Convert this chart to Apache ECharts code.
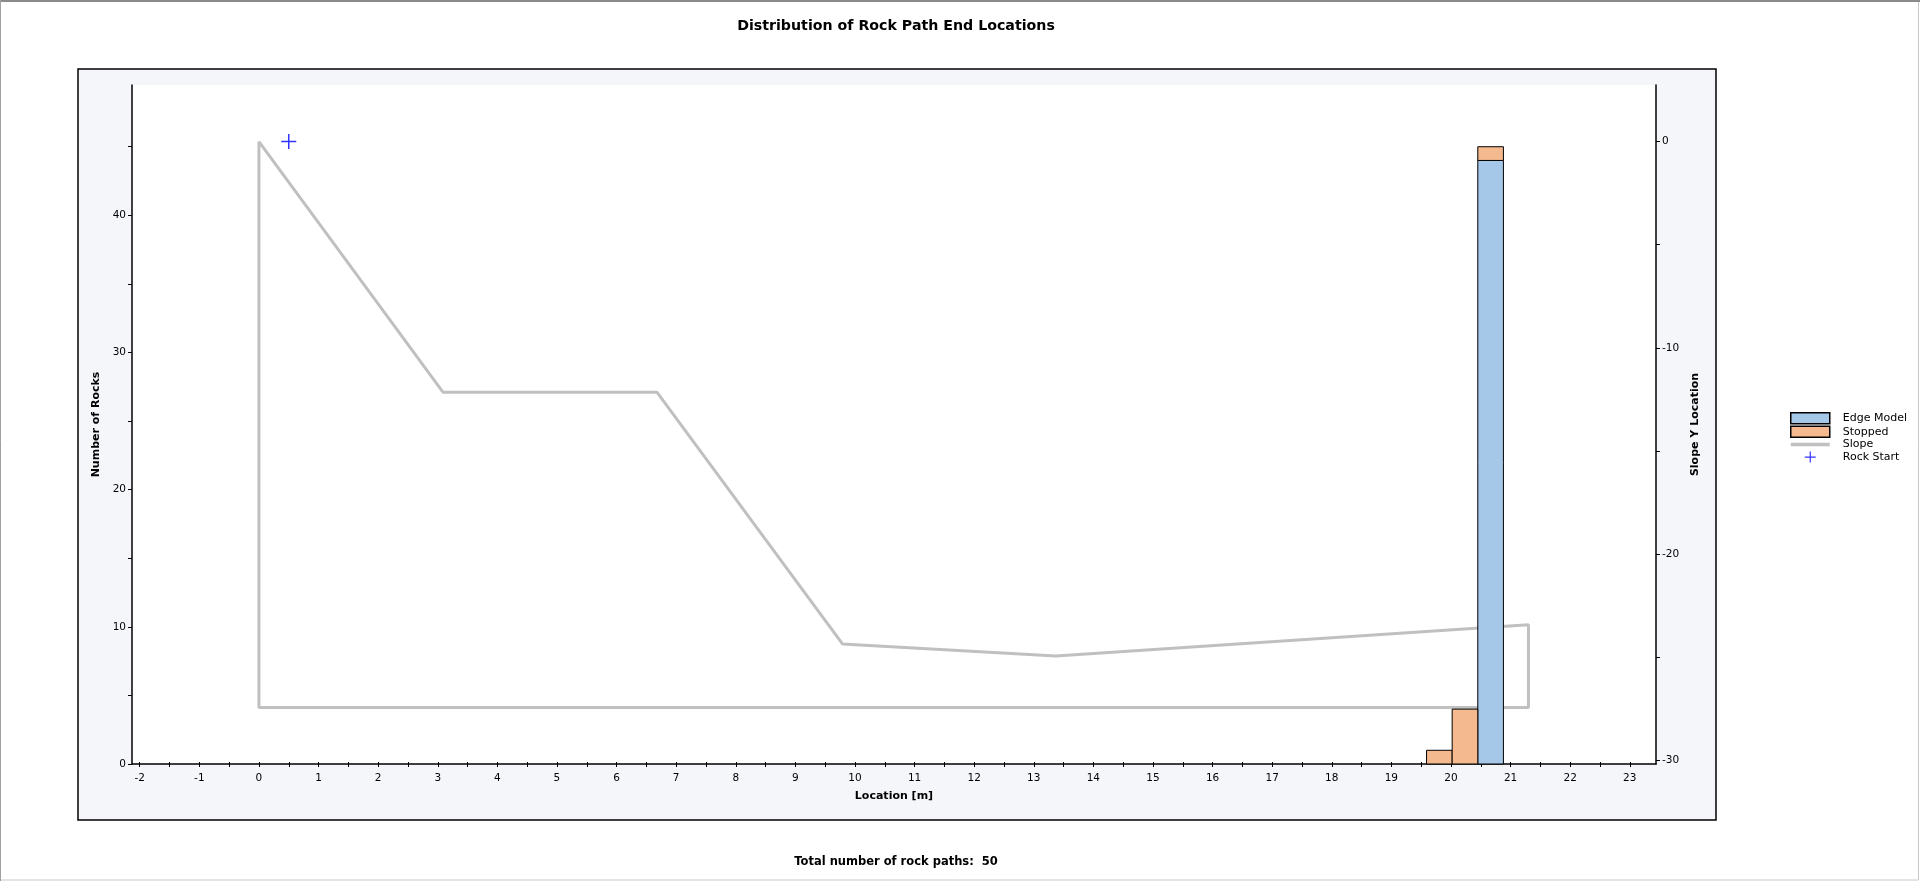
<!DOCTYPE html>
<html>
<head>
<meta charset="utf-8">
<script src="https://cdn.jsdelivr.net/npm/echarts@6/dist/echarts.min.js"></script>
<style>
html,body{margin:0;padding:0;background:#fff;}
#chart{width:1920px;height:881px;}
</style>
</head>
<body>
<div id="chart"></div>
<script>
// ---- Data ----
const binStart = [19.59, 20.02, 20.45];
const binEnd = [20.02, 20.45, 20.88];
const edgeModelCounts = [0, 0, 44];
const stoppedCounts = [1, 4, 1];

const slopeX = [0, 3.09, 6.68, 9.79, 13.37, 21.30, 21.30, 0, 0];
const slopeY = [0, -12.16, -12.16, -24.36, -24.94, -23.43, -27.44, -27.44, 0];

const rockStartX = [0.5];
const rockStartY = [0];

const xTickLabels = [-2,-1,0,1,2,3,4,5,6,7,8,9,10,11,12,13,14,15,16,17,18,19,20,21,22,23];
const xTicks = [-2,-1.5,-1,-0.5,0,0.5,1,1.5,2,2.5,3,3.5,4,4.5,5,5.5,6,6.5,7,7.5,8,8.5,9,9.5,10,10.5,11,11.5,12,12.5,13,13.5,14,14.5,15,15.5,16,16.5,17,17.5,18,18.5,19,19.5,20,20.5,21,21.5,22,22.5,23];
const countTickLabels = [0, 10, 20, 30, 40];
const countTicks = [0, 5, 10, 15, 20, 25, 30, 35, 40, 45];
const slopeTickLabels = [-30, -20, -10, 0];
const slopeTicks = [-30, -25, -20, -15, -10, -5, 0];

const xRange = [-2.13, 23.44];
const countRange = [0, 49.5];
const slopeRange = [-30.18, 2.74];

// ---- Derived ----
const totalPaths = edgeModelCounts.reduce((a, b) => a + b, 0) + stoppedCounts.reduce((a, b) => a + b, 0);
const edgeData = binStart.map((s, i) => [s, binEnd[i], 0, edgeModelCounts[i]]);
const stoppedData = binStart.map((s, i) => [s, binEnd[i], edgeModelCounts[i], edgeModelCounts[i] + stoppedCounts[i]]);
const slopeData = slopeX.map((x, i) => [x, slopeY[i]]);
const rockData = rockStartX.map((x, i) => [x, rockStartY[i]]);

const EDGE_COLOR = '#A6C8E8';
const STOP_COLOR = '#F4B98E';
const SLOPE_COLOR = '#C0C0C0';
const FONT = 'DejaVu Sans';

function barRenderer(fill) {
  return function (params, api) {
    const x0 = api.value(0), x1 = api.value(1), y0 = api.value(2), y1 = api.value(3);
    if (y1 <= y0) return null;
    const p0 = api.coord([x0, y0]);
    const p1 = api.coord([x1, y1]);
    return {
      type: 'rect',
      shape: { x: p0[0], y: p1[1], width: p1[0] - p0[0], height: p0[1] - p1[1] },
      style: { fill: fill, stroke: '#000', lineWidth: 1 }
    };
  };
}

const chart = echarts.init(document.getElementById('chart'), null, { renderer: 'canvas' });

const labelStyle = { fontFamily: FONT, fontSize: 10.5, color: '#000' };
const nameStyle = { fontFamily: FONT, fontSize: 11, fontWeight: 'bold', color: '#000' };

chart.setOption({
  animation: false,
  backgroundColor: '#fff',
  graphic: [
    { type: 'rect', z: -100, shape: { x: 0.5, y: 1, width: 1918, height: 879 },
      style: { fill: '#fff', stroke: '#c8c8c8', lineWidth: 1 } },
    { type: 'line', z: -99, shape: { x1: 0, y1: 1, x2: 1920, y2: 1 },
      style: { stroke: '#8a8a8a', lineWidth: 2 } },
    { type: 'line', z: -99, shape: { x1: 0.5, y1: 0, x2: 0.5, y2: 881 },
      style: { stroke: '#a0a0a0', lineWidth: 1 } },
    { type: 'rect', z: -98, shape: { x: 78, y: 69, width: 1638, height: 751 },
      style: { fill: '#F5F6FA', stroke: '#000', lineWidth: 1.5 } },
    { type: 'text', z: 10, x: 896, y: 26,
      style: { text: 'Distribution of Rock Path End Locations', fontFamily: FONT, fontSize: 14.2,
        fontWeight: 'bold', fill: '#000', textAlign: 'center', textVerticalAlign: 'middle' } },
    { type: 'text', z: 10, x: 896, y: 862,
      style: { text: 'Total number of rock paths:  ' + totalPaths, fontFamily: FONT, fontSize: 11.5,
        fontWeight: 'bold', fill: '#000', textAlign: 'center', textVerticalAlign: 'middle' } }
  ],
  grid: {
    left: 132, top: 85, right: 264, bottom: 117,
    show: true, backgroundColor: '#fff', borderWidth: 0, containLabel: false
  },
  legend: {
    orient: 'vertical', left: 1785, top: 407, padding: 5,
    itemWidth: 39, itemHeight: 11, itemGap: 1,
    textStyle: { fontFamily: FONT, fontSize: 11, color: '#000', lineHeight: 11, padding: [0, 0, 0, 8] },
    data: [
      { name: 'Edge Model', icon: 'rect', itemStyle: { color: EDGE_COLOR, borderColor: '#000', borderWidth: 1.5 } },
      { name: 'Stopped', icon: 'rect', itemStyle: { color: STOP_COLOR, borderColor: '#000', borderWidth: 1.5 } },
      { name: 'Slope', icon: 'path://M0,0L39,0L39,3.5L0,3.5Z', itemStyle: { color: SLOPE_COLOR, borderWidth: 0 } },
      { name: 'Rock Start', icon: 'path://M0,5L10,5M5,0L5,10', itemStyle: { color: 'rgba(0,0,0,0)', borderColor: '#0000FF', borderWidth: 1.2 } }
    ],
    selectedMode: false
  },
  xAxis: [
    {
      type: 'value', min: xRange[0], max: xRange[1], position: 'bottom',
      name: 'Location [m]', nameLocation: 'middle', nameGap: 27, nameTextStyle: nameStyle,
      axisLine: { show: true, onZero: false, lineStyle: { color: '#000', width: 1.5 } },
      axisTick: { show: true, inside: false, length: 3, customValues: xTicks, lineStyle: { color: '#000', width: 1 } },
      axisLabel: { show: true, margin: 9, customValues: xTickLabels, ...labelStyle },
      splitLine: { show: false }
    },
    {
      type: 'value', min: xRange[0], max: xRange[1], position: 'bottom',
      axisLine: { show: false, onZero: false },
      axisTick: { show: true, inside: true, length: 2, customValues: xTicks, lineStyle: { color: '#000', width: 1 } },
      axisLabel: { show: false },
      splitLine: { show: false }
    }
  ],
  yAxis: [
    {
      type: 'value', min: countRange[0], max: countRange[1], position: 'left',
      name: 'Number of Rocks', nameLocation: 'middle', nameGap: 14, nameRotate: 90, nameTextStyle: nameStyle,
      axisLine: { show: true, onZero: false, lineStyle: { color: '#000', width: 1.5 } },
      axisTick: { show: true, length: 4, customValues: countTicks, lineStyle: { color: '#000', width: 1 } },
      axisLabel: { show: true, margin: 6, customValues: countTickLabels, ...labelStyle },
      splitLine: { show: false }
    },
    {
      type: 'value', min: slopeRange[0], max: slopeRange[1], position: 'right',
      name: 'Slope Y Location', nameLocation: 'middle', nameGap: 31, nameRotate: 90, nameTextStyle: nameStyle,
      axisLine: { show: true, onZero: false, lineStyle: { color: '#000', width: 1.5 } },
      axisTick: { show: true, length: 4, customValues: slopeTicks, lineStyle: { color: '#000', width: 1 } },
      axisLabel: { show: true, margin: 6, customValues: slopeTickLabels, ...labelStyle },
      splitLine: { show: false }
    }
  ],
  series: [
    {
      name: 'Slope', type: 'line', xAxisIndex: 0, yAxisIndex: 1, z: 1,
      data: slopeData, symbol: 'none', showSymbol: false,
      lineStyle: { color: SLOPE_COLOR, width: 3 }, itemStyle: { color: SLOPE_COLOR }
    },
    {
      name: 'Edge Model', type: 'custom', xAxisIndex: 0, yAxisIndex: 0, z: 3,
      renderItem: barRenderer(EDGE_COLOR), data: edgeData,
      encode: { x: [0, 1], y: [2, 3] }, itemStyle: { color: EDGE_COLOR }
    },
    {
      name: 'Stopped', type: 'custom', xAxisIndex: 0, yAxisIndex: 0, z: 3,
      renderItem: barRenderer(STOP_COLOR), data: stoppedData,
      encode: { x: [0, 1], y: [2, 3] }, itemStyle: { color: STOP_COLOR }
    },
    {
      name: 'Rock Start', type: 'scatter', xAxisIndex: 0, yAxisIndex: 1, z: 5,
      data: rockData, symbol: 'path://M0,7L14,7M7,0L7,14', symbolSize: 15,
      itemStyle: { color: 'rgba(0,0,0,0)', borderColor: '#0000FF', borderWidth: 1.5 }
    }
  ]
});
</script>
</body>
</html>
